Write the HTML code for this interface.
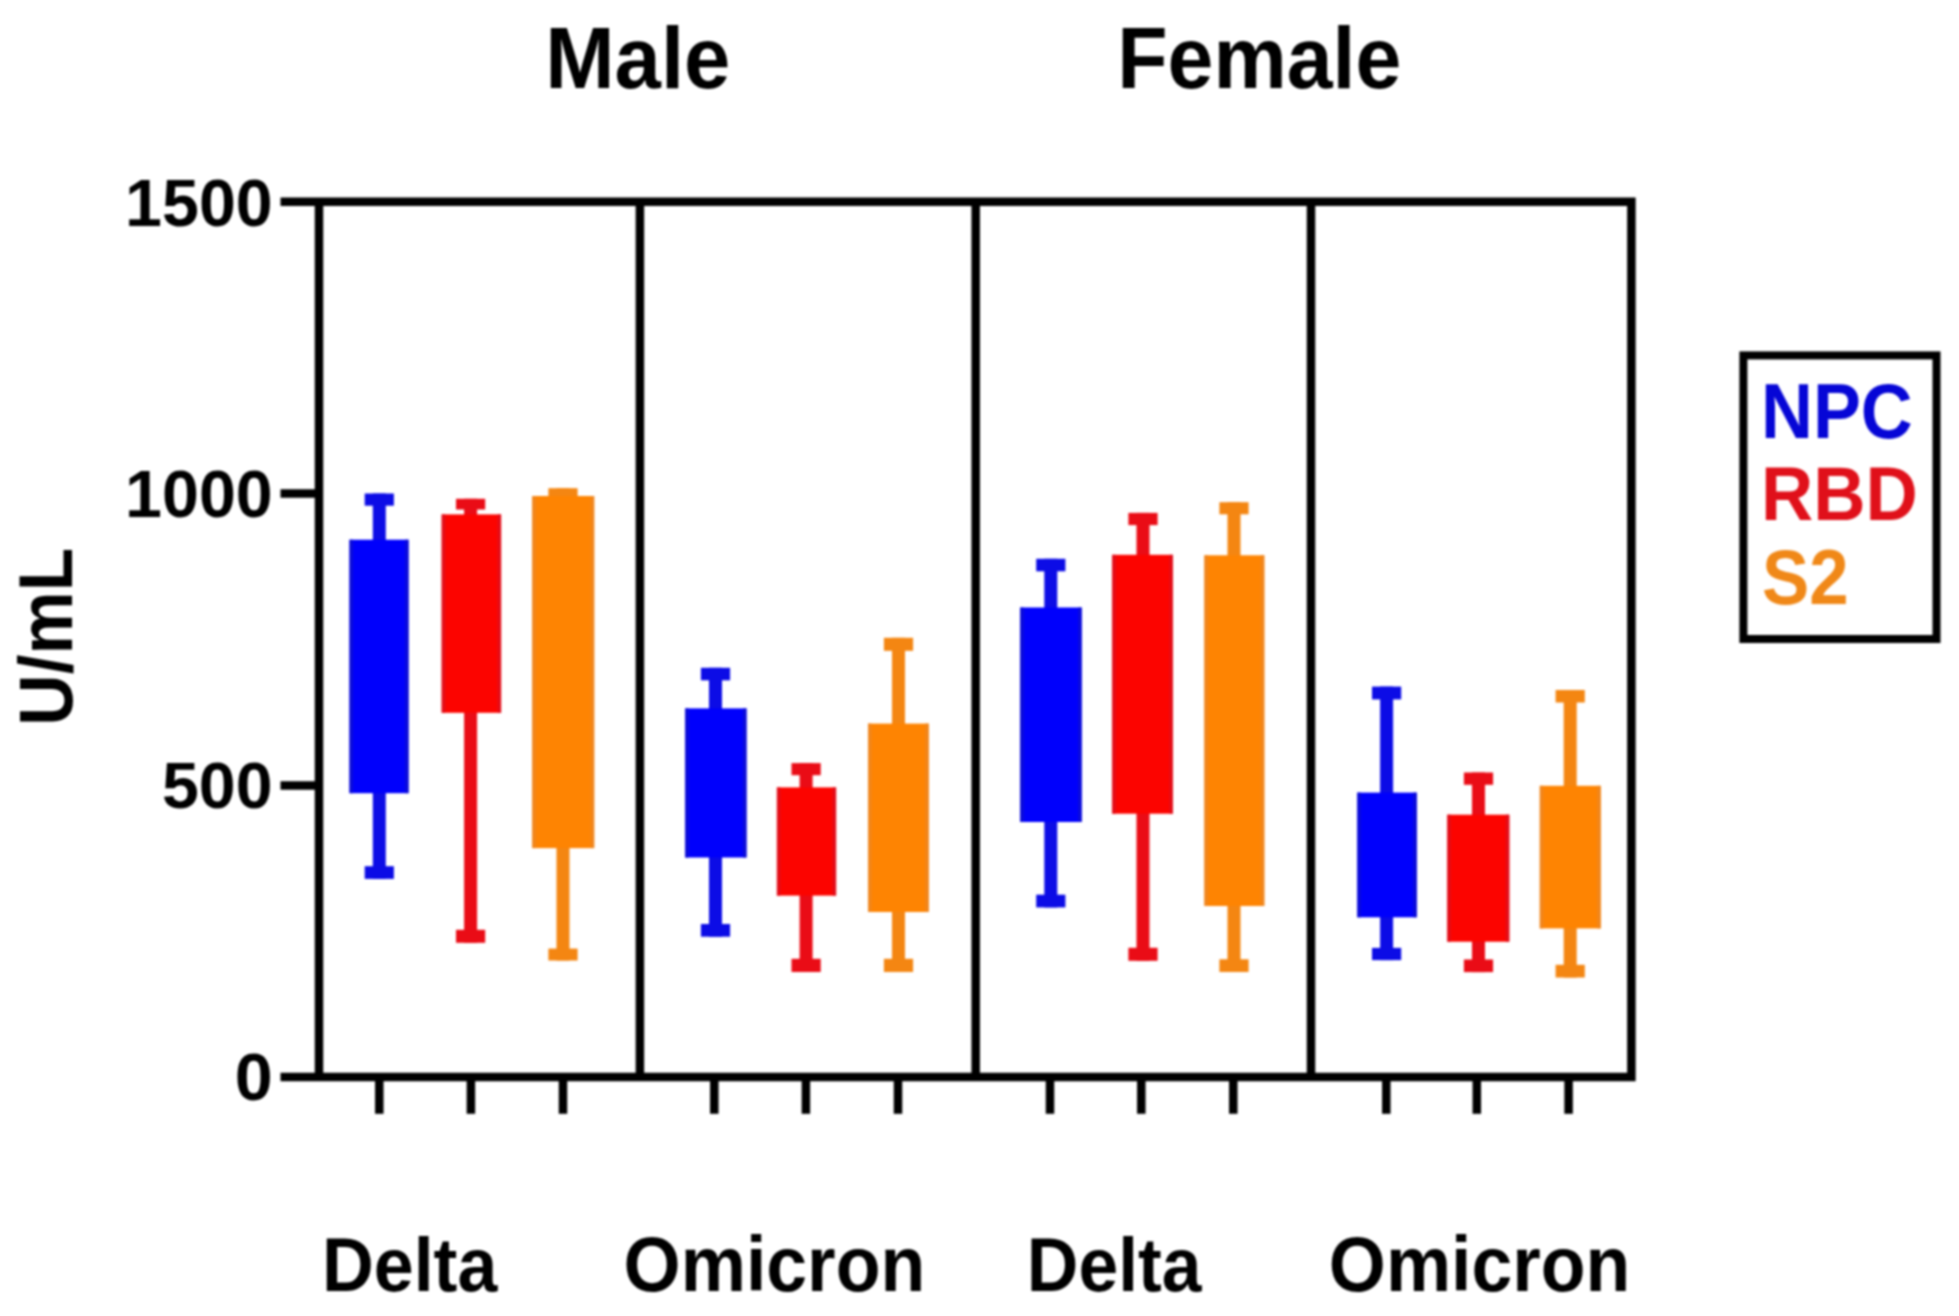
<!DOCTYPE html>
<html lang="en"><head><meta charset="utf-8"><title>U/mL by sex and variant</title>
<style>
html,body{margin:0;padding:0;background:#fff;}
body{width:1959px;height:1316px;overflow:hidden;}
svg{display:block;filter:blur(1.3px);}
text{font-family:"Liberation Sans",sans-serif;font-weight:700;font-size:100px;fill:#000;}
</style></head><body>
<svg width="1959" height="1316" viewBox="0 0 1959 1316">
<rect width="1959" height="1316" fill="#fff"/>
<g fill="#0c0ce6"><rect x="372.8" y="493.5" width="13" height="385.4"/><rect x="364.7" y="493.5" width="29.2" height="12.2"/><rect x="364.7" y="866.2" width="29.2" height="12.7"/><rect x="349.5" y="539.7" width="59.1" height="253.5" fill="#0000fc"/><rect x="349.5" y="539.7" width="3.5" height="253.5" fill="#0c0cd8"/><rect x="405.1" y="539.7" width="3.5" height="253.5" fill="#0c0cd8"/></g>
<g fill="#ea0c16"><rect x="464.1" y="498.8" width="13" height="444.0"/><rect x="456.0" y="498.8" width="29.2" height="10.7"/><rect x="456.0" y="929.8" width="29.2" height="13.0"/><rect x="441.7" y="514.4" width="59.4" height="198.4" fill="#fc0400"/><rect x="441.7" y="514.4" width="3.5" height="198.4" fill="#e20e1a"/><rect x="497.6" y="514.4" width="3.5" height="198.4" fill="#e20e1a"/></g>
<g fill="#f48612"><rect x="556.5" y="488.2" width="13" height="472.3"/><rect x="548.4" y="488.2" width="29.2" height="9.8"/><rect x="548.4" y="948.6" width="29.2" height="11.9"/><rect x="532.2" y="496.0" width="62.0" height="352.1" fill="#fe8402"/><rect x="532.2" y="496.0" width="3.5" height="352.1" fill="#f0861e"/><rect x="590.7" y="496.0" width="3.5" height="352.1" fill="#f0861e"/></g>
<g fill="#0c0ce6"><rect x="709.0" y="667.8" width="13" height="268.9"/><rect x="700.9" y="667.8" width="29.2" height="12.5"/><rect x="700.9" y="924.0" width="29.2" height="12.7"/><rect x="685.2" y="708.4" width="61.3" height="149.1" fill="#0000fc"/><rect x="685.2" y="708.4" width="3.5" height="149.1" fill="#0c0cd8"/><rect x="743.0" y="708.4" width="3.5" height="149.1" fill="#0c0cd8"/></g>
<g fill="#ea0c16"><rect x="799.6" y="763.1" width="13" height="208.9"/><rect x="791.5" y="763.1" width="29.2" height="12.1"/><rect x="791.5" y="958.8" width="29.2" height="13.2"/><rect x="776.9" y="787.4" width="59.2" height="108.2" fill="#fc0400"/><rect x="776.9" y="787.4" width="3.5" height="108.2" fill="#e20e1a"/><rect x="832.6" y="787.4" width="3.5" height="108.2" fill="#e20e1a"/></g>
<g fill="#f48612"><rect x="892.0" y="637.8" width="13" height="334.2"/><rect x="883.9" y="637.8" width="29.2" height="13.0"/><rect x="883.9" y="958.8" width="29.2" height="13.2"/><rect x="868.0" y="723.6" width="60.8" height="188.4" fill="#fe8402"/><rect x="868.0" y="723.6" width="3.5" height="188.4" fill="#f0861e"/><rect x="925.3" y="723.6" width="3.5" height="188.4" fill="#f0861e"/></g>
<g fill="#0c0ce6"><rect x="1044.3" y="558.8" width="13" height="348.6"/><rect x="1036.2" y="558.8" width="29.2" height="12.5"/><rect x="1036.2" y="894.7" width="29.2" height="12.7"/><rect x="1020.2" y="607.5" width="61.5" height="214.5" fill="#0000fc"/><rect x="1020.2" y="607.5" width="3.5" height="214.5" fill="#0c0cd8"/><rect x="1078.2" y="607.5" width="3.5" height="214.5" fill="#0c0cd8"/></g>
<g fill="#ea0c16"><rect x="1136.5" y="512.9" width="13" height="447.9"/><rect x="1128.4" y="512.9" width="29.2" height="12.2"/><rect x="1128.4" y="947.8" width="29.2" height="13.0"/><rect x="1112.2" y="554.8" width="60.7" height="258.9" fill="#fc0400"/><rect x="1112.2" y="554.8" width="3.5" height="258.9" fill="#e20e1a"/><rect x="1169.4" y="554.8" width="3.5" height="258.9" fill="#e20e1a"/></g>
<g fill="#f48612"><rect x="1227.5" y="502.2" width="13" height="469.8"/><rect x="1219.4" y="502.2" width="29.2" height="12.1"/><rect x="1219.4" y="959.3" width="29.2" height="12.7"/><rect x="1204.4" y="555.3" width="59.9" height="350.7" fill="#fe8402"/><rect x="1204.4" y="555.3" width="3.5" height="350.7" fill="#f0861e"/><rect x="1260.8" y="555.3" width="3.5" height="350.7" fill="#f0861e"/></g>
<g fill="#0c0ce6"><rect x="1380.1" y="686.6" width="13" height="273.5"/><rect x="1372.0" y="686.6" width="29.2" height="12.8"/><rect x="1372.0" y="947.9" width="29.2" height="12.2"/><rect x="1357.3" y="792.6" width="59.5" height="124.7" fill="#0000fc"/><rect x="1357.3" y="792.6" width="3.5" height="124.7" fill="#0c0cd8"/><rect x="1413.3" y="792.6" width="3.5" height="124.7" fill="#0c0cd8"/></g>
<g fill="#ea0c16"><rect x="1472.0" y="772.5" width="13" height="199.6"/><rect x="1463.9" y="772.5" width="29.2" height="12.3"/><rect x="1463.9" y="959.5" width="29.2" height="12.6"/><rect x="1447.3" y="814.7" width="62.0" height="127.0" fill="#fc0400"/><rect x="1447.3" y="814.7" width="3.5" height="127.0" fill="#e20e1a"/><rect x="1505.8" y="814.7" width="3.5" height="127.0" fill="#e20e1a"/></g>
<g fill="#f48612"><rect x="1563.7" y="690.0" width="13" height="287.5"/><rect x="1555.6" y="690.0" width="29.2" height="12.5"/><rect x="1555.6" y="964.8" width="29.2" height="12.7"/><rect x="1539.8" y="785.8" width="61.0" height="142.6" fill="#fe8402"/><rect x="1539.8" y="785.8" width="3.5" height="142.6" fill="#f0861e"/><rect x="1597.3" y="785.8" width="3.5" height="142.6" fill="#f0861e"/></g>
<g stroke="#000" stroke-width="8.5" fill="none"><path d="M280.5 201.7H1635.65M280.5 1077.1H1635.65M319 201.7V1077.1M1631.4 201.7V1077.1"/><path d="M280.5 493.5H319M280.5 785.6H319"/><path d="M639.9 201.7V1077.1"/><path d="M975.7 201.7V1077.1"/><path d="M1311 201.7V1077.1"/><path d="M379.3 1077.1V1113.8"/><path d="M470.9 1077.1V1113.8"/><path d="M563 1077.1V1113.8"/><path d="M714.3 1077.1V1113.8"/><path d="M805.9 1077.1V1113.8"/><path d="M898 1077.1V1113.8"/><path d="M1050 1077.1V1113.8"/><path d="M1141.3 1077.1V1113.8"/><path d="M1233.3 1077.1V1113.8"/><path d="M1386.3 1077.1V1113.8"/><path d="M1476.8 1077.1V1113.8"/><path d="M1568.6 1077.1V1113.8"/></g>
<text transform="translate(545.23 87.76) scale(0.8327 0.8672)">Male</text>
<text transform="translate(1117.18 87.96) scale(0.8246 0.8714)">Female</text>
<text transform="translate(125.12 225.64) scale(0.6639 0.6648)">1500</text>
<text transform="translate(125.12 516.74) scale(0.6639 0.6648)">1000</text>
<text transform="translate(161.91 807.84) scale(0.6631 0.6563)">500</text>
<text transform="translate(234.79 1099.54) scale(0.6839 0.6648)">0</text>
<text transform="translate(322.00 1290.76) scale(0.7172 0.7637)">Delta</text>
<text transform="translate(623.56 1291.05) scale(0.7339 0.7776)">Omicron</text>
<text transform="translate(1026.82 1290.76) scale(0.7143 0.7637)">Delta</text>
<text transform="translate(1328.87 1291.05) scale(0.7332 0.7776)">Omicron</text>
<text transform="translate(1761.09 437.52) scale(0.7184 0.7775)" style="fill:#0606d6">NPC</text>
<text transform="translate(1760.96 520.40) scale(0.7240 0.7681)" style="fill:#e0101a">RBD</text>
<text transform="translate(1762.09 603.82) scale(0.7081 0.7761)" style="fill:#f08818">S2</text>
<text transform="translate(71.92 725.67) rotate(-90) scale(0.7112 0.7598)">U/mL</text>
<rect x="1743.4" y="355.4" width="193.1" height="283.6" fill="none" stroke="#000" stroke-width="8"/>
</svg></body></html>
